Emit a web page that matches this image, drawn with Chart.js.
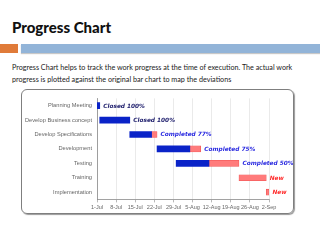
<!DOCTYPE html>
<html lang="en">
<head>
<meta charset="UTF-8">
<title>Progress Chart</title>
<style>
    body {
        margin: 0;
        width: 320px;
        height: 240px;
        background: #ffffff;
        position: relative;
        overflow: hidden;
        font-family: Lato, sans-serif;
    }
    .title {
        position: absolute;
        left: 12px;
        top: 18px;
        font-family: Lato, sans-serif;
        font-weight: 900;
        font-size: 15px;
        color: #111;
    }
    .bar-orange {
        position: absolute;
        left: 0; top: 44px; width: 18px; height: 9px;
        background: #e07b39;
    }
    .bar-blue {
        position: absolute;
        left: 21px; top: 44px; width: 299px; height: 9px;
        background: #92b4d8;
        box-shadow: 0 1px 1px #c8c8c8;
    }
    .intro {
        position: absolute;
        left: 12px;
        top: 62px;
        white-space: nowrap;
        font-size: 7.2px;
        line-height: 11.5px;
        color: #222;
    }
    .box {
        position: absolute;
        left: 21px; top: 89px;
        width: 271px; height: 123px;
        border: 1px solid #7f7f7f;
        border-radius: 6px;
        box-shadow: 1px 1px 1px #999;
    }
    .chart-wrap {
        position: absolute;
        left: 21px; top: 90px;
        width: 272px; height: 123px;
    }
</style>
</head>
<body>
<div class="title">Progress Chart</div>
<div class="bar-orange"></div>
<div class="bar-blue"></div>
<div class="intro">Progress Chart helps to track the work progress at the time of execution. The actual work<br>progress is plotted against the original bar chart to map the deviations</div>
<div class="box"></div>
<div class="chart-wrap"><canvas id="chart"></canvas></div>

<script src="https://cdn.jsdelivr.net/npm/chart.js"></script>
<script>
    // tasks, days counted from 1-Jul
    const tasks = ['Planning Meeting', 'Develop Business concept', 'Develop Specifications',
        'Development', 'Testing', 'Training', 'Implementation'];
    const taskStart = [0, 1, 12, 22, 29, 52, 62];
    const doneEnd = [1, 12, 20, 34, 41, 52, 62];
    const taskEnd = [1, 12, 22, 38, 52, 62, 63];
    const statusText = ['Closed 100%', 'Closed 100%', 'Completed 77%', 'Completed 75%',
        'Completed 50%', 'New', 'New'];
    const weekLabels = ['1-Jul', '8-Jul', '15-Jul', '22-Jul', '29-Jul', '5-Aug',
        '12-Aug', '19-Aug', '26-Aug', '2-Sep'];

    const done = tasks.map((t, i) => doneEnd[i] > taskStart[i] ? [taskStart[i], doneEnd[i]] : null);
    const remaining = tasks.map((t, i) => taskEnd[i] > doneEnd[i] ? [doneEnd[i], taskEnd[i]] : null);

    // status text after each bar
    const statusLabels = {
        id: 'statusLabels',
        afterDatasetsDraw(chart) {
            const c = chart.ctx;
            const x = chart.scales.x, y = chart.scales.y;
            c.save();
            c.font = 'italic bold 5.8px "DejaVu Sans", sans-serif';
            c.textBaseline = 'middle';
            statusText.forEach((s, i) => {
                if (s.startsWith('Closed')) c.fillStyle = '#1c1c6b';
                else if (s === 'New') c.fillStyle = '#ff2a2a';
                else c.fillStyle = '#2a2ae0';
                c.fillText(s, x.getPixelForValue(taskEnd[i]) + 3.5, y.getPixelForValue(i) + 0.5);
            });
            c.restore();
        }
    };

    new Chart(document.getElementById('chart'), {
        type: 'bar',
        data: {
            labels: tasks,
            datasets: [{
                data: done,
                backgroundColor: '#0a23c8',
                barThickness: 6
            }, {
                data: remaining,
                backgroundColor: '#ff7b7b',
                borderColor: '#f05050',
                borderWidth: 0.6,
                borderSkipped: false,
                barThickness: 6
            }]
        },
        options: {
            indexAxis: 'y',
            responsive: true,
            maintainAspectRatio: false,
            animation: false,
            layout: { padding: { top: 5.6, right: 24, bottom: 0, left: 0 } },
            plugins: { legend: { display: false }, tooltip: { enabled: false } },
            scales: {
                x: {
                    min: 0,
                    max: 63,
                    ticks: {
                        stepSize: 7,
                        autoSkip: false,
                        maxRotation: 0,
                        padding: 2,
                        color: '#666666',
                        font: { size: 5.5, family: 'Liberation Sans' },
                        callback: v => weekLabels[v / 7]
                    },
                    grid: { color: '#dcdcdc', lineWidth: 0.6, tickLength: 3, tickColor: '#8a8a8a' },
                    border: { color: '#8a8a8a', width: 0.8 },
                    afterFit: s => { s.height = 13.6; }
                },
                y: {
                    stacked: true,
                    ticks: {
                        color: '#666666',
                        padding: 5,
                        font: { size: 5.7, family: 'Liberation Sans' }
                    },
                    grid: { display: false, drawTicks: false },
                    border: { color: '#8a8a8a', width: 0.8 },
                    afterFit: s => { s.width = 76; }
                }
            }
        },
        plugins: [statusLabels]
    });
</script>
</body>
</html>
